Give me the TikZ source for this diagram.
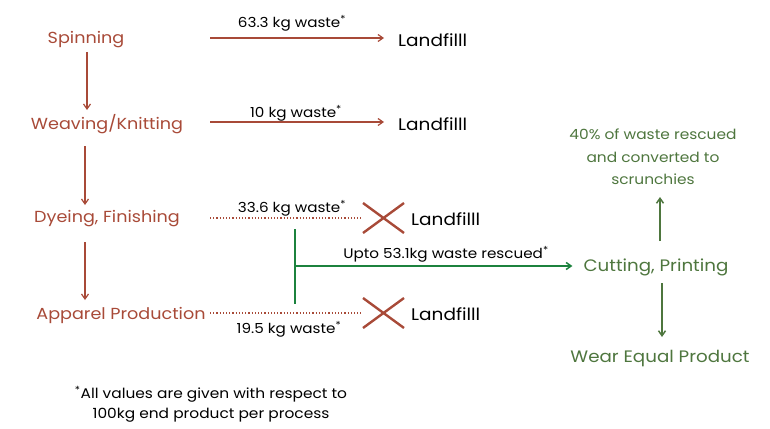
\documentclass[tikz,border=0pt]{standalone}
\usepackage{fontspec}
\setmainfont[FakeStretch=1.1]{Poppins}
\usetikzlibrary{arrows.meta}
\definecolor{brick}{RGB}{168,74,56}
\definecolor{olive}{RGB}{78,118,62}
\definecolor{lgreen}{RGB}{28,130,62}
\newcommand{\myast}{\textsuperscript{*}}
\begin{document}
\begin{tikzpicture}[x=1pt,y=-1pt,
  proc/.style={text=brick,font=\fontsize{16}{19}\selectfont,inner sep=1pt},
  land/.style={text=black,font=\fontsize{16.8}{19}\selectfont,inner sep=1pt},
  wlab/.style={text=black,font=\fontsize{13.8}{15}\selectfont,inner sep=1pt},
  gproc/.style={text=olive,font=\fontsize{16.6}{19}\selectfont,inner sep=1pt},
  flow/.style={draw=brick,line width=1.2pt,-{Straight Barb[length=5pt,width=7pt]}},
  dotl/.style={draw=brick,line width=1.2pt,dotted},
  gflow/.style={draw=olive,line width=1.5pt,-{Straight Barb[length=5pt,width=7pt]}},
  xmark/.style={draw=brick,line width=2.4pt}]
\useasboundingbox (0,0) rectangle (770,428);
% process column
\node[proc] (spin) at (86,40) {Spinning};
\node[proc] (weave) at (107,124) {Weaving/Knitting};
\node[proc] (dye) at (107,219) {Dyeing, Finishing};
\node[proc] (app) at (121,315) {Apparel Production};
\draw[flow] (87,52) -- (87,110);
\draw[flow] (85,146) -- (85,205);
\draw[flow] (85,242) -- (85,300);
% landfill rows
\coordinate (a1s) at (210,38); \coordinate (a1e) at (384,38);
\draw[flow] (a1s) -- (a1e);
\node[wlab] (w1) at (292,23) {63.3 kg waste\myast};
\node[land,anchor=west] (l1) at (397,40) {Landfilll};
\coordinate (a2s) at (210,122); \coordinate (a2e) at (384,122);
\draw[flow] (a2s) -- (a2e);
\node[wlab] (w2) at (296,113) {10 kg waste\myast};
\node[land,anchor=west] (l2) at (397,124) {Landfilll};
\coordinate (d1s) at (210,218); \coordinate (d1e) at (361,218);
\draw[dotl] (d1s) -- (d1e);
\node[wlab] (w3) at (292,208) {33.6 kg waste\myast};
\draw[xmark] (363,203) -- (404,233) (363,233) -- (404,203);
\node[land,anchor=west] (l3) at (410,219) {Landfilll};
\coordinate (d2s) at (210,313); \coordinate (d2e) at (361,313);
\draw[dotl] (d2s) -- (d2e);
\node[wlab] (w4) at (289,329) {19.5 kg waste\myast};
\draw[xmark] (363,298) -- (404,328) (363,328) -- (404,298);
\node[land,anchor=west] (l4) at (410,314) {Landfilll};
% rescue
\coordinate (gt) at (295,229); \coordinate (gb) at (295,304); \coordinate (gm) at (295,266);
\draw[draw=lgreen,line width=1.5pt] (gt) -- (gb);
\node[gproc] (cut) at (656,267) {Cutting, Printing};
\draw[draw=lgreen,line width=1.5pt,-{Straight Barb[length=5pt,width=7pt]},shorten >=10pt] (gm) -- (cut.west |- gm);
\node[wlab] (w5) at (446,254) {Upto 53.1kg waste rescued\myast};
\node[text=olive,font=\fontsize{14}{22.5}\selectfont,align=center,inner sep=1pt] (scr) at (653,157) {40\% of waste rescued\\and converted to\\scrunchies};
\node[gproc] (wear) at (660,359) {Wear Equal Product};
\draw[gflow] (660,241) -- (660,197);
\draw[gflow] (662,283) -- (662,337);
% footnote
\node[text=black,font=\fontsize{14}{20}\selectfont,align=center,inner sep=1pt] (fn) at (211,404) {\myast All values are given with respect to\\100kg end product per process};
\end{tikzpicture}
\end{document}
